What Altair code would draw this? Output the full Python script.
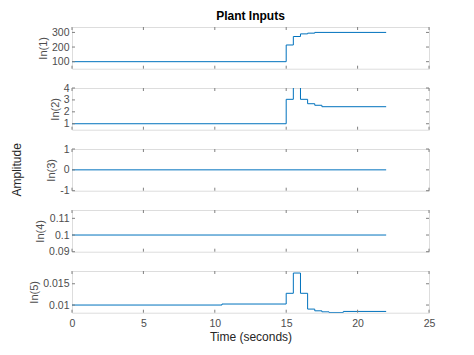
import altair as alt
import pandas as pd

# ---- data ----
t1 = [0, 15, 15.5, 16, 16.5, 17, 22]
in1 = [100, 214, 272, 290, 295, 300, 300]

t2 = [0, 15, 15.5, 16, 16.5, 17, 17.5, 22]
in2 = [1, 3.05, 4.5, 3.05, 2.68, 2.55, 2.43, 2.43]

t3 = [0, 22]
in3 = [0, 0]

t4 = [0, 22]
in4 = [0.1, 0.1]

t5 = [0, 10.5, 15, 15.5, 16, 16.5, 17, 17.5, 18, 19, 22]
in5 = [0.01, 0.01024, 0.01276, 0.01752, 0.01276, 0.00905, 0.00864, 0.0084, 0.00825, 0.0085, 0.0085]

x_ticks = [0, 5, 10, 15, 20, 25]
names = ["In(1)", "In(2)", "In(3)", "In(4)", "In(5)"]
domains = [[52, 337], [0.5, 4], [-1, 1], [0.09, 0.115], [0.0082, 0.018]]
y_ticks = [[100, 200, 300], [1, 2, 3, 4], [-1, 0, 1], [0.09, 0.1, 0.11], [0.01, 0.015]]

W = 357
H = 41.7
FONT = "Liberation Sans"
BOX = "#808080"
LINE = "#0072BD"
LAB = "#4d4d4d"
TICK_LEN = 3

xscale = alt.Scale(domain=[0, 25], nice=False, zero=False)


def panel(t, v, name, domain, yt, bottom=False, amplitude=False, title=None):
    df = pd.DataFrame({"t": t, "v": v})
    yscale = alt.Scale(domain=domain, nice=False, zero=False)
    if bottom:
        xaxis = alt.Axis(values=x_ticks, title="Time (seconds)", ticks=False, tickSize=0,
                         domain=False, grid=False, labelPadding=5.5, labelFlush=False,
                         labelFontSize=10.5, labelColor=LAB, titleFontSize=12,
                         titleFontWeight="normal", titleColor="#262626", titlePadding=3,
                         labelOverlap=False)
    else:
        xaxis = None
    yaxis = alt.Axis(values=yt, labelExpr="replace(format(datum.value, '~r'), '\u2212', '-')",
                     title=name, ticks=False, tickSize=0,
                     domain=False, grid=False, labelPadding=3, labelFontSize=10.5,
                     labelColor=LAB, titleFontSize=11, titleFontWeight="normal",
                     titleColor=LAB, titlePadding=3, labelOverlap=False, labelFlush=False)
    X = alt.X("t:Q", scale=xscale, axis=xaxis)
    Y = alt.Y("v:Q", scale=yscale, axis=yaxis)
    line = alt.Chart(df).mark_line(interpolate="step-after", clip=True, color=LINE,
                                   strokeWidth=1).encode(x=X, y=Y)
    xdf = pd.DataFrame({"t": x_ticks})
    ydf = pd.DataFrame({"v": yt})
    xb = alt.Chart(xdf).mark_rule(color=BOX, strokeWidth=1).encode(
        x=X, y=alt.value(H), y2=alt.value(H - TICK_LEN))
    xtp = alt.Chart(xdf).mark_rule(color=BOX, strokeWidth=1).encode(
        x=X, y=alt.value(0), y2=alt.value(TICK_LEN))
    yl = alt.Chart(ydf).mark_rule(color=BOX, strokeWidth=1).encode(
        y=Y, x=alt.value(0), x2=alt.value(TICK_LEN))
    yr = alt.Chart(ydf).mark_rule(color=BOX, strokeWidth=1).encode(
        y=Y, x=alt.value(W - TICK_LEN), x2=alt.value(W))
    layers = [line, xb, xtp, yl, yr]
    if amplitude:
        adf = pd.DataFrame({"s": ["Amplitude"]})
        amp = alt.Chart(adf).mark_text(angle=270, fontSize=12, font=FONT,
                                       color="#262626").encode(
            text="s:N", x=alt.value(-55), y=alt.value(H / 2))
        layers.append(amp)
    ch = alt.layer(*layers).properties(width=W, height=H)
    if title:
        ch = ch.properties(title=alt.TitleParams(title, fontSize=12, fontWeight="bold",
                                                 anchor="middle", frame="group",
                                                 offset=4, color="#000000", font=FONT))
    return ch


p1 = panel(t1, in1, names[0], domains[0], y_ticks[0], title="Plant Inputs")
p2 = panel(t2, in2, names[1], domains[1], y_ticks[1])
p3 = panel(t3, in3, names[2], domains[2], y_ticks[2], amplitude=True)
p4 = panel(t4, in4, names[3], domains[3], y_ticks[3])
p5 = panel(t5, in5, names[4], domains[4], y_ticks[4], bottom=True)

chart = alt.vconcat(p1, p2, p3, p4, p5, spacing=19, bounds="flush").configure_view(
    stroke=BOX, strokeWidth=1
).configure(
    font=FONT, padding={"left": 10, "top": 9, "right": 5, "bottom": 5},
    background="white"
)

chart.save("out.html", embed_options={"renderer": "svg", "actions": False})
